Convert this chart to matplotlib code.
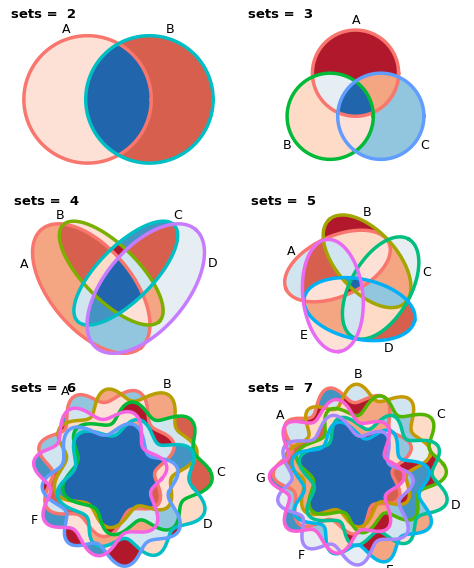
import numpy as np
import matplotlib
matplotlib.use("Agg")
import matplotlib.pyplot as plt
from matplotlib.colors import to_rgb

set_counts = [2, 3, 4, 5, 6, 7]
set_labels = ["A", "B", "C", "D", "E", "F", "G"]

outline_colors = {
    2: ["#f8766d", "#00bfc4"],
    3: ["#f8766d", "#00ba38", "#619cff"],
    4: ["#f8766d", "#7cae00", "#00bfc4", "#c77cff"],
    5: ["#f8766d", "#a3a500", "#00bf7d", "#00b0f6", "#e76bf3"],
    6: ["#f8766d", "#b79f00", "#00ba38", "#00bfc4", "#619cff", "#f564e3"],
    7: ["#f8766d", "#c49a00", "#53b400", "#00c094", "#00b6eb", "#a58aff", "#fb61d7"],
}
region_palette = ["#fde0d6", "#b2182b", "#f4a582", "#d1e5f0", "#92c5de",
                  "#4393c3", "#e6eef3", "#d6604d", "#fddbc7"]
core_color = "#2166ac"

t = np.linspace(0, 2 * np.pi, 600)


def shape_curve(n, i):
    # returns closed outline (x, y) of set i for an n-set diagram
    if n == 2:
        cx = [-0.33, 0.33][i]
        return cx + 0.68 * np.cos(t), 0.68 * np.sin(t)
    if n == 3:
        c = [(0, 0.28), (-0.27, -0.18), (0.27, -0.18)][i]
        return c[0] + 0.46 * np.cos(t), c[1] + 0.46 * np.sin(t)
    if n == 4:
        c = [(-0.3, -0.05), (-0.08, 0.12), (0.08, 0.12), (0.3, -0.05)][i]
        ang = np.deg2rad([-50, -45, 45, 50][i])
        a, b = [(0.85, 0.45), (0.75, 0.3), (0.75, 0.3), (0.85, 0.45)][i]
        ex, ey = a * np.cos(t), b * np.sin(t)
        return (c[0] + ex * np.cos(ang) - ey * np.sin(ang),
                c[1] + ex * np.sin(ang) + ey * np.cos(ang))
    phi = np.pi / 2 + np.pi * 0.25 - 2 * np.pi * i / n
    if n == 5:
        d, a, b = 0.28, 0.62, 0.33
        ang = phi + np.pi / 2.6
        ex, ey = a * np.cos(t), b * np.sin(t)
        return (d * np.cos(phi) + ex * np.cos(ang) - ey * np.sin(ang),
                d * np.sin(phi) + ex * np.sin(ang) + ey * np.cos(ang))
    d = 0.2
    r = 0.68 + 0.09 * np.sin((n + 1) * t + i * 1.3) + 0.05 * np.cos(2 * t - phi)
    return d * np.cos(phi) + r * np.cos(t), d * np.sin(phi) + r * np.sin(t)


def inside(px, py, x, y):
    from matplotlib.path import Path
    p = Path(np.column_stack([px, py]))
    return p.contains_points(np.column_stack([x.ravel(), y.ravel()])).reshape(x.shape)


fig = plt.figure(figsize=(4.74, 5.68), dpi=100)
positions = [(0.0, 0.66, 0.5, 0.33), (0.5, 0.66, 0.5, 0.33),
             (0.0, 0.34, 0.5, 0.32), (0.5, 0.34, 0.5, 0.32),
             (0.0, 0.0, 0.5, 0.33), (0.5, 0.0, 0.5, 0.33)]

gx, gy = np.meshgrid(np.linspace(-1.15, 1.15, 300), np.linspace(-1.0, 1.0, 260))

for n, pos in zip(set_counts, positions):
    ax = fig.add_axes(pos)
    ax.set_xlim(-1.15, 1.15)
    ax.set_ylim(-1.0, 1.0)
    ax.set_aspect("equal")
    ax.axis("off")
    curves = [shape_curve(n, i) for i in range(n)]
    mask = np.zeros(gx.shape, dtype=int)
    for i, (cx, cy) in enumerate(curves):
        mask |= inside(cx, cy, gx, gy).astype(int) << i
    img = np.ones(gx.shape + (4,))
    img[..., 3] = 0
    full = (1 << n) - 1
    for m in np.unique(mask):
        if m == 0:
            continue
        col = core_color if m == full else region_palette[(m * 7 + n) % len(region_palette)]
        img[mask == m, :3] = to_rgb(col)
        img[mask == m, 3] = 1
    ax.imshow(img, extent=(-1.15, 1.15, -1.0, 1.0), origin="lower", interpolation="nearest")
    for i, (cx, cy) in enumerate(curves):
        ax.plot(cx, cy, color=outline_colors[n][i], lw=2.5)
        # label just outside farthest point from centre in shape direction
        mx, my = cx.mean(), cy.mean()
        dirx, diry = mx, my
        if n == 2:
            dirx, diry = (-0.3, 1) if i == 0 else (0.3, 1)
        nrm = np.hypot(dirx, diry) or 1
        proj = (cx * dirx + cy * diry) / nrm
        k = np.argmax(proj)
        ax.text(cx[k] + 0.1 * dirx / nrm, cy[k] + 0.1 * diry / nrm, set_labels[i],
                fontsize=9, ha="center", va="center")
    ax.text(-1.15, 0.98, "sets =  %d" % n, fontsize=9.5, fontweight="bold",
            ha="left", va="top")

fig.savefig("out.png", dpi=100)
